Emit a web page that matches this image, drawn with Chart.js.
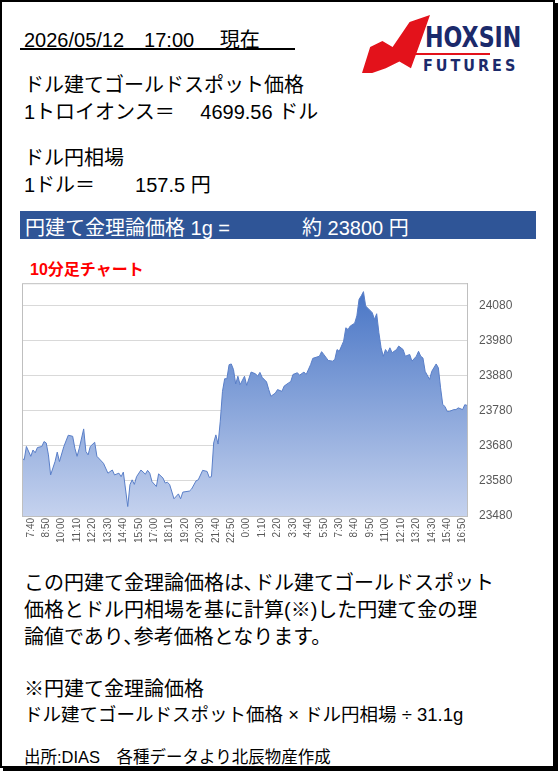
<!DOCTYPE html>
<html><head><meta charset="utf-8">
<script src="https://cdn.jsdelivr.net/npm/chart.js@4"></script>
<style>
body{margin:0;background:#fff;font-family:"Liberation Sans","Noto Sans CJK JP",sans-serif;color:#000;}
#frame{position:absolute;left:0;top:0;width:551px;height:764px;border:2px solid #000;box-shadow:3px 3px 0 #000;}
.t{position:absolute;white-space:nowrap;}
#cwrap{position:absolute;left:20px;top:264px;width:520px;height:288px;}
</style></head><body>
<div id="frame"></div>
<div class="t" style="left:24px;top:24px;font-size:20px;">2026/05/12　17:00　 現在</div>
<div style="position:absolute;left:20px;top:48px;width:275px;height:2px;background:#000"></div>
<div style="position:absolute;left:362px;top:15px;width:68px;height:58px;background:#e3121b;clip-path:polygon(0 100%,12% 55%,30% 45%,45% 55%,70% 12%,100% 0,88% 40%,72% 92%,55% 80%,35% 92%,15% 100%);"></div>
<div class="t" style="left:425px;top:20px;font-size:29px;font-weight:bold;color:#1b2a6b;font-family:'Liberation Sans Narrow','DejaVu Sans Condensed',sans-serif;transform:scaleX(0.85);transform-origin:left top;">HOXSIN</div>
<div style="position:absolute;left:400px;top:53px;width:90px;height:2px;background:#e3121b"></div>
<div class="t" style="left:423px;top:56px;font-size:16px;font-weight:bold;color:#1b2a6b;letter-spacing:3px;font-family:'DejaVu Sans Condensed',sans-serif;">FUTURES</div>
<div class="t" style="left:24px;top:69px;font-size:20px;">ドル建てゴールドスポット価格</div>
<div class="t" style="left:24px;top:96px;font-size:20px;">1トロイオンス＝　 4699.56 ドル</div>
<div class="t" style="left:24px;top:142px;font-size:20px;">ドル円相場</div>
<div class="t" style="left:24px;top:169px;font-size:20px;">1ドル＝　　157.5 円</div>
<div style="position:absolute;left:20px;top:211px;width:516px;height:28px;background:#2f5597"></div>
<div class="t" style="left:25px;top:212px;font-size:20px;color:#fff;">円建て金理論価格 1g =<span style="display:inline-block;width:72px"></span>約 23800 円</div>
<div class="t" style="left:30px;top:256px;font-size:16px;font-weight:bold;color:#ff0000;">10分足チャート</div>
<div id="cwrap"><canvas id="c"></canvas></div>
<div class="t" style="left:24px;top:570px;font-size:20px;line-height:27px;">この円建て金理論価格は､ドル建てゴールドスポット<br>価格とドル円相場を基に計算(※)した円建て金の理<br>論値であり､参考価格となります。</div>
<div class="t" style="left:24px;top:673px;font-size:20px;">※円建て金理論価格</div>
<div class="t" style="left:24px;top:700px;font-size:18.5px;">ドル建てゴールドスポット価格 × ドル円相場 ÷ 31.1g</div>
<div class="t" style="left:24px;top:744px;font-size:16.5px;">出所:DIAS　各種データより北辰物産作成</div>
<script>
const tickLabels=["7:40","8:50","10:00","11:10","12:20","13:30","14:40","15:50","17:00","18:10","19:20","20:30","21:40","22:50","0:00","1:10","2:20","3:30","4:40","5:50","7:30","8:40","9:50","11:00","12:10","13:20","14:30","15:40","16:50"];
const idx=[0,1,2,4,5,6,7,9,10,11,12,13,15,16,17,19,21,23,24,25,26,28,29,30,31,33,34,37,39,41,42,44,45,46,48,49,50,51,52,54,56,57,58,59,61,62,64,65,66,67,69,71,72,73,76,77,79,80,82,84,85,86,87,88,89,90,91,92,93,94,95,96,97,98,99,101,102,104,106,107,108,109,111,112,113,115,116,118,119,121,122,123,125,126,128,129,131,132,135,136,137,139,141,142,143,144,146,147,148,149,151,152,153,154,155,156,157,159,160,161,162,163,164,165,166,167,168,170,171,173,174,176,177,179,180,181,182,183,185,186,188,189,190,191,192,193,194,196,197,198,200,201,202];
const vals=[23645,23640,23678,23650,23668,23660,23675,23678,23692,23688,23654,23597,23635,23662,23635,23678,23710,23707,23673,23650,23673,23728,23664,23654,23678,23690,23650,23630,23602,23611,23597,23602,23592,23605,23507,23569,23583,23570,23592,23611,23599,23610,23602,23578,23564,23600,23588,23574,23576,23570,23529,23543,23529,23548,23551,23557,23580,23583,23610,23607,23590,23592,23688,23711,23685,23750,23835,23871,23871,23911,23913,23897,23856,23878,23854,23878,23852,23890,23885,23878,23889,23875,23862,23840,23821,23830,23840,23835,23850,23859,23863,23883,23888,23881,23890,23883,23911,23929,23935,23948,23940,23923,23921,23926,23954,23949,23978,24016,24011,24021,24029,24050,24097,24107,24119,24078,24072,24059,24040,24056,24002,23959,23935,23954,23945,23959,23945,23954,23964,23954,23935,23940,23921,23935,23949,23935,23930,23892,23869,23892,23913,23902,23845,23797,23792,23778,23778,23783,23783,23788,23783,23797,23795];
const yTicks=[23480,23580,23680,23780,23880,23980,24080];
const pts=idx.map((x,i)=>({x:x,y:vals[i]}));
new Chart(document.getElementById('c'),{
 type:'line',
 data:{datasets:[{data:pts,borderColor:'#5a7fc8',borderWidth:1,pointRadius:0,tension:0,fill:'origin',
  backgroundColor:(ctx)=>{const a=ctx.chart.chartArea;if(!a)return '#7f9ad6';const g=ctx.chart.ctx.createLinearGradient(0,a.top,0,a.bottom);g.addColorStop(0,'#4472c4');g.addColorStop(1,'#c5d2ee');return g;}}]},
 options:{responsive:true,maintainAspectRatio:false,animation:false,
  layout:{padding:{left:2,top:2,right:0,bottom:0}},
  plugins:{legend:{display:false},tooltip:{enabled:false}},
  scales:{
   x:{type:'linear',min:0,max:202,
    afterBuildTicks:s=>{s.ticks=tickLabels.map((l,k)=>({value:4+7*k}));},
    afterFit:s=>{s.height=36;},
    ticks:{autoSkip:false,maxRotation:90,minRotation:90,color:'#595959',font:{size:10},padding:2,callback:(v,i)=>tickLabels[i]},
    grid:{display:false,drawTicks:false},border:{color:'#bfbfbf'}},
   y:{position:'right',min:23480,max:24143,
    afterBuildTicks:s=>{s.ticks=yTicks.map(v=>({value:v}));},
    afterFit:s=>{s.width=73;},
    ticks:{color:'#595959',font:{size:12},padding:12,callback:v=>v},
    grid:{color:'#d9d9d9',drawTicks:false},border:{display:true,color:'#bfbfbf'}}
  }},
 plugins:[{id:'frame',afterDraw(c){const a=c.chartArea,x=c.ctx;x.save();x.strokeStyle='#bfbfbf';x.lineWidth=1;x.strokeRect(a.left+0.5,a.top+0.5,a.right-a.left,a.bottom-a.top);x.restore();}}]
});
</script></body></html>
